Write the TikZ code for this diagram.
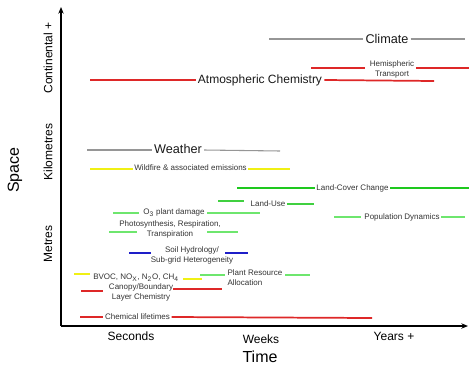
\documentclass[tikz,border=0pt]{standalone}
\usepackage{fontspec}
\setmainfont{Liberation Sans}
\usetikzlibrary{arrows.meta}
\definecolor{cred}{RGB}{222,40,40}
\definecolor{cgray}{RGB}{150,150,150}
\definecolor{cyel}{RGB}{240,240,20}
\definecolor{cgreen}{RGB}{30,200,30}
\definecolor{clgreen}{RGB}{110,230,110}
\definecolor{cblue}{RGB}{30,30,200}
\tikzset{
  sm/.style={font=\fontsize{6}{7.5}\selectfont, text=black!80, inner sep=1pt, align=center},
  big/.style={font=\fontsize{9.5}{11}\selectfont, text=black!90, inner sep=1.5pt},
  axlab/.style={font=\fontsize{9}{11}\selectfont, text=black},
  axtitle/.style={font=\fontsize{12}{14}\selectfont, text=black},
  redl/.style={draw=cred, line width=1.3pt},
  grayl/.style={draw=cgray, line width=0.8pt},
  yell/.style={draw=cyel, line width=1.2pt},
  greenl/.style={draw=cgreen, line width=1.5pt},
  mgreenl/.style={draw=cgreen!85!white, line width=1.0pt},
  lgreenl/.style={draw=clgreen, line width=0.9pt},
  bluel/.style={draw=cblue, line width=1.2pt},
  axis/.style={draw=black, line width=0.9pt, -{Stealth[length=5pt,width=4pt]}}
}
\begin{document}
\begin{tikzpicture}[x=0.75pt,y=-0.75pt]
\useasboundingbox (0,0) rectangle (474,368);
% axes
\coordinate (O) at (61,326);
\coordinate (Ytop) at (61,7);
\coordinate (Xend) at (468,326);
\draw[axis] (O) -- (Ytop);
\draw[axis] (O) -- (Xend);
% axis labels
\node[axlab, rotate=90] (cont) at (48,58) {Continental +};
\node[axlab, rotate=90] (km) at (48,152) {Kilometres};
\node[axlab, rotate=90] (met) at (48,244) {Metres};
\node[axtitle, rotate=90] (space) at (15,170) {Space};
\node[axtitle] (time) at (260,357) {Time};
\node[axlab] (sec) at (131,336) {Seconds};
\node[axlab] (wk) at (261,339) {Weeks};
\node[axlab] (yr) at (394,336) {Years +};
% Climate
\node[big] (cl) at (387,39) {Climate};
\coordinate (clL) at (269,39); \coordinate (clR) at (465,39);
\draw[grayl] (clL) -- (cl); \draw[grayl] (cl) -- (clR);
% Hemispheric transport
\node[sm] (ht) at (392,69) {Hemispheric\\Transport};
\coordinate (htA) at (311,68); \coordinate (htB) at (365,68);
\coordinate (htC) at (416,68); \coordinate (htD) at (469,68);
\draw[redl] (htA) -- (htB); \draw[redl] (htC) -- (htD);
% Atmospheric chemistry
\node[big, font=\fontsize{9}{11}\selectfont] (ac) at (260,80) {Atmospheric Chemistry};
\coordinate (acL) at (90,80); \coordinate (acR) at (434,81);
\draw[redl] (acL) -- (ac); \draw[redl] (ac.east) -- (acR);
% Weather
\node[big] (we) at (178,149) {Weather};
\coordinate (weL) at (87,150); \coordinate (weR) at (280,151);
\draw[grayl] (weL) -- (we.west |- weL); \draw[grayl] (we.east |- weL) -- (weR);
% Wildfire
\node[sm] (wf) at (190.5,168) {Wildfire \& associated emissions};
\coordinate (wfL) at (90,169); \coordinate (wfR) at (290,169);
\draw[yell] (wfL) -- (wf.west |- wfL); \draw[yell] (wf.east |- wfL) -- (wfR);
% Land-cover change
\node[sm] (lc) at (352.5,188) {Land-Cover Change};
\coordinate (lcL) at (237,188); \coordinate (lcR) at (469,188);
\draw[greenl] (lcL) -- (lc); \draw[greenl] (lc) -- (lcR);
% Land-use
\node[sm] (lu) at (268,204) {Land-Use};
\coordinate (luA) at (218,201); \coordinate (luB) at (244,201);
\coordinate (luR) at (314,204);
\draw[mgreenl] (luA) -- (luB); \draw[mgreenl] (lu) -- (luR);
% O3 plant damage
\node[sm] (o3) at (174,213) {O\textsubscript{3} plant damage};
\coordinate (o3A) at (113,213); \coordinate (o3B) at (139,213);
\coordinate (o3C) at (207,213); \coordinate (o3D) at (260,213);
\draw[lgreenl] (o3A) -- (o3B); \draw[lgreenl] (o3C) -- (o3D);
% Population dynamics
\node[sm] (pd) at (402,217) {Population Dynamics};
\coordinate (pdA) at (334,217); \coordinate (pdB) at (361,217);
\coordinate (pdR) at (465,217);
\draw[lgreenl] (pdA) -- (pdB); \draw[lgreenl] (pd) -- (pdR);
% Photosynthesis
\node[sm] (ph) at (170,229.5) {Photosynthesis, Respiration,\\Transpiration};
\coordinate (phA) at (109,232); \coordinate (phB) at (137,232);
\coordinate (phC) at (207,232); \coordinate (phD) at (238,232);
\draw[lgreenl] (phA) -- (phB); \draw[lgreenl] (phC) -- (phD);
% Soil hydrology
\node[sm] (sh) at (192,255.5) {Soil Hydrology/\\Sub-grid Heterogeneity};
\coordinate (shA) at (129,253); \coordinate (shB) at (151,253);
\coordinate (shC) at (225,253); \coordinate (shD) at (248,253);
\draw[bluel] (shA) -- (shB); \draw[bluel] (shC) -- (shD);
% BVOC
\node[sm] (bv) at (136,278) {BVOC, NO\textsubscript{X}, N\textsubscript{2}O, CH\textsubscript{4}};
\coordinate (bvA) at (74,274); \coordinate (bvB) at (90,274);
\coordinate (bvC) at (183,279); \coordinate (bvD) at (202,279);
\draw[yell] (bvA) -- (bvB); \draw[yell] (bvC) -- (bvD);
% Plant resource allocation
\node[sm, anchor=west, align=left] (pr) at (226,278) {Plant Resource\\Allocation};
\coordinate (prA) at (200,275); \coordinate (prB) at (225,275);
\coordinate (prC) at (285,275); \coordinate (prD) at (310,275);
\draw[lgreenl] (prA) -- (prB); \draw[lgreenl] (prC) -- (prD);
% Canopy
\node[sm] (cb) at (141,292.5) {Canopy/Boundary\\Layer Chemistry};
\coordinate (cbA) at (81,291); \coordinate (cbB) at (103,291);
\coordinate (cbC) at (173,289); \coordinate (cbD) at (222,289);
\draw[redl] (cbA) -- (cbB); \draw[redl] (cbC) -- (cbD);
% Chemical lifetimes
\node[sm] (chl) at (137.5,317) {Chemical lifetimes};
\coordinate (chL) at (80,317); \coordinate (chR) at (372,318);
\draw[redl] (chL) -- (chl); \draw[redl] (chl.east) -- (chR);
\end{tikzpicture}
\end{document}
